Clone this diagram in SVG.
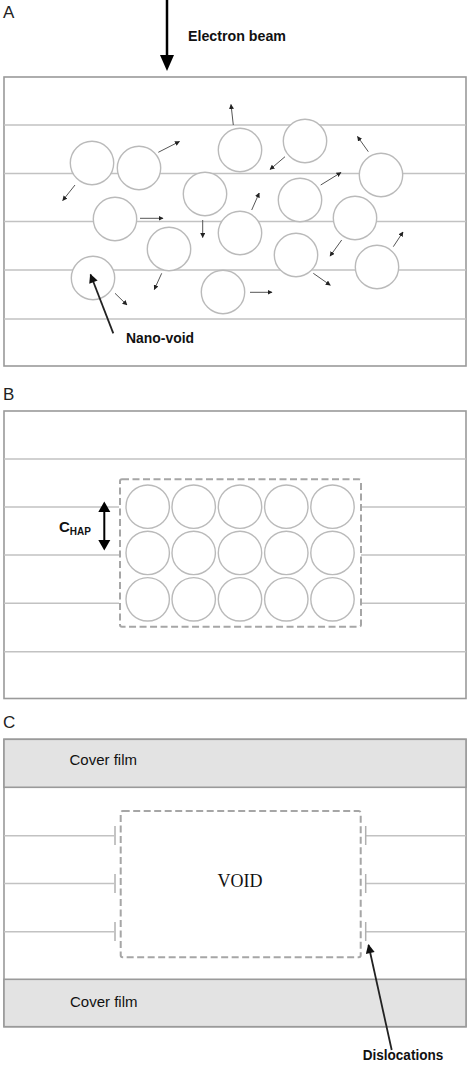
<svg xmlns="http://www.w3.org/2000/svg" width="474" height="1068" viewBox="0 0 474 1068">
<defs>
<style>
.frame{fill:#fff;stroke:#9a9a9a;stroke-width:1.6}
.layer{stroke:#c2c2c2;stroke-width:1.5;fill:none}
.void{fill:#fff;stroke:#bababa;stroke-width:1.4}
.move{stroke:#555;stroke-width:1;fill:none;marker-end:url(#sm)}
.dash{fill:none;stroke:#a6a6a6;stroke-width:2;stroke-dasharray:7 3.5}
.film{fill:#e3e3e3;stroke:#9a9a9a;stroke-width:1.6}
.tick{stroke:#b0b0b0;stroke-width:1.5}
.panel{font-family:"Liberation Sans",Arial,sans-serif;font-size:17px;fill:#222}
.lbl{font-family:"Liberation Sans",Arial,sans-serif;font-weight:bold;fill:#111}
.cov{font-family:"Liberation Sans",Arial,sans-serif;font-size:15px;fill:#111}
.ptr{stroke:#222;stroke-width:1.8;fill:none;marker-end:url(#big)}
</style>
<marker id="sm" viewBox="0 0 10 10" refX="9" refY="5" markerWidth="5" markerHeight="5" markerUnits="userSpaceOnUse" orient="auto"><path d="M0,0 L10,5 L0,10 z" fill="#222"/></marker>
<marker id="big" viewBox="0 0 10 10" refX="9" refY="5" markerWidth="11" markerHeight="9" markerUnits="userSpaceOnUse" orient="auto"><path d="M0,0 L10,5 L0,10 z" fill="#111"/></marker>
</defs>

<g id="panelA">
<text class="panel" x="3" y="18">A</text>
<rect id="boxA" class="frame" x="4" y="77" width="462" height="289"/>
<g id="layersA">
<line class="layer" x1="4" y1="125" x2="466" y2="125"/>
<line class="layer" x1="4" y1="173.5" x2="466" y2="173.5"/>
<line class="layer" x1="4" y1="221.5" x2="466" y2="221.5"/>
<line class="layer" x1="4" y1="270" x2="466" y2="270"/>
<line class="layer" x1="4" y1="319" x2="466" y2="319"/>
</g>
<g id="voidsA">
<circle class="void" cx="92" cy="163" r="21.7"/>
<circle class="void" cx="139" cy="168" r="21.7"/>
<circle class="void" cx="205" cy="194" r="21.7"/>
<circle class="void" cx="115" cy="219" r="21.7"/>
<circle class="void" cx="169" cy="249" r="21.7"/>
<circle class="void" cx="93" cy="278" r="21.7"/>
<circle class="void" cx="223" cy="292" r="21.7"/>
<circle class="void" cx="240" cy="150" r="21.7"/>
<circle class="void" cx="240" cy="233" r="21.7"/>
<circle class="void" cx="305" cy="141" r="21.7"/>
<circle class="void" cx="381" cy="175" r="21.7"/>
<circle class="void" cx="300" cy="200" r="21.7"/>
<circle class="void" cx="355" cy="218" r="21.7"/>
<circle class="void" cx="296" cy="255" r="21.7"/>
<circle class="void" cx="377" cy="267" r="21.7"/>
</g>
<g id="beam">
<line x1="167" y1="0" x2="167" y2="56" stroke="#000" stroke-width="2.5"/>
<path d="M160,55 L174,55 L167,71 z" fill="#000"/>
<text class="lbl" x="188" y="41" font-size="15" textLength="98" lengthAdjust="spacingAndGlyphs">Electron beam</text>
</g>
<g id="nanovoid-label">
<text class="lbl" x="126" y="343" font-size="14" textLength="68" lengthAdjust="spacingAndGlyphs">Nano-void</text>
</g>
</g>

<g id="connectorsA">
<line class="move" x1="75" y1="185" x2="62.7" y2="200.5"/>
<line class="move" x1="158.3" y1="152.3" x2="179.5" y2="141.5"/>
<line class="move" x1="140" y1="218.3" x2="163" y2="218.3"/>
<line class="move" x1="202.7" y1="220" x2="202.7" y2="237.5"/>
<line class="move" x1="161.7" y1="273.3" x2="154.3" y2="289.5"/>
<line class="move" x1="115" y1="293.3" x2="127" y2="305"/>
<line class="move" x1="285" y1="156.7" x2="270" y2="169.5"/>
<line class="move" x1="368.3" y1="151.7" x2="357.5" y2="136.5"/>
<line class="move" x1="320.7" y1="185" x2="341" y2="172.5"/>
<line class="move" x1="251.7" y1="210" x2="259.2" y2="193"/>
<line class="move" x1="341.7" y1="240" x2="330" y2="256.2"/>
<line class="move" x1="393.3" y1="246.7" x2="403" y2="232"/>
<line class="move" x1="313.3" y1="273.3" x2="330.3" y2="285.2"/>
<line class="move" x1="250" y1="292.3" x2="272" y2="292.3"/>
<line class="move" x1="233.3" y1="125" x2="231" y2="104.5"/>
<line class="ptr" x1="113.3" y1="333.3" x2="90.5" y2="274.5"/>
</g>

<g id="panelB">
<text class="panel" x="3" y="400">B</text>
<rect id="boxB" class="frame" x="4" y="411" width="462" height="287.5"/>
<g id="layersB">
<line class="layer" x1="4" y1="459" x2="466" y2="459"/>
<line class="layer" x1="4" y1="507" x2="119" y2="507"/>
<line class="layer" x1="361" y1="507" x2="466" y2="507"/>
<line class="layer" x1="4" y1="555" x2="119" y2="555"/>
<line class="layer" x1="361" y1="555" x2="466" y2="555"/>
<line class="layer" x1="4" y1="603.3" x2="119" y2="603.3"/>
<line class="layer" x1="361" y1="603.3" x2="466" y2="603.3"/>
<line class="layer" x1="4" y1="651.7" x2="466" y2="651.7"/>
</g>
<rect id="cluster" class="dash" x="120" y="479.3" width="241" height="147.4" rx="2"/>
<g id="gridB">
<circle class="void" cx="147.7" cy="506.7" r="21.7"/>
<circle class="void" cx="193.7" cy="506.7" r="21.7"/>
<circle class="void" cx="240" cy="506.7" r="21.7"/>
<circle class="void" cx="286.3" cy="506.7" r="21.7"/>
<circle class="void" cx="332.5" cy="506.7" r="21.7"/>
<circle class="void" cx="147.7" cy="552.9" r="21.7"/>
<circle class="void" cx="193.7" cy="552.9" r="21.7"/>
<circle class="void" cx="240" cy="552.9" r="21.7"/>
<circle class="void" cx="286.3" cy="552.9" r="21.7"/>
<circle class="void" cx="332.5" cy="552.9" r="21.7"/>
<circle class="void" cx="147.7" cy="599.3" r="21.7"/>
<circle class="void" cx="193.7" cy="599.3" r="21.7"/>
<circle class="void" cx="240" cy="599.3" r="21.7"/>
<circle class="void" cx="286.3" cy="599.3" r="21.7"/>
<circle class="void" cx="332.5" cy="599.3" r="21.7"/>
</g>
<g id="chap">
<line x1="104.3" y1="511" x2="104.3" y2="541" stroke="#000" stroke-width="2"/>
<path d="M98.3,512 L110.3,512 L104.3,501.5 z" fill="#000"/>
<path d="M98.3,540 L110.3,540 L104.3,550.5 z" fill="#000"/>
<text class="lbl" x="59" y="532" font-size="15">C<tspan font-size="10" dy="3">HAP</tspan></text>
</g>
</g>

<g id="panelC">
<text class="panel" x="3" y="728">C</text>
<rect id="boxC" class="frame" x="4" y="739.3" width="462" height="287.4"/>
<g id="coverTop">
<rect class="film" x="4" y="739.3" width="462" height="48"/>
<text class="cov" x="69.5" y="765">Cover film</text>
</g>
<g id="coverBottom">
<rect class="film" x="4" y="979.3" width="462" height="47.4"/>
<text class="cov" x="70" y="1007">Cover film</text>
</g>
<g id="layersC">
<line class="layer" x1="4" y1="835.7" x2="114" y2="835.7"/>
<line class="layer" x1="366" y1="835.7" x2="466" y2="835.7"/>
<line class="layer" x1="4" y1="883.5" x2="114" y2="883.5"/>
<line class="layer" x1="366" y1="883.5" x2="466" y2="883.5"/>
<line class="layer" x1="4" y1="931.7" x2="114" y2="931.7"/>
<line class="layer" x1="366" y1="931.7" x2="466" y2="931.7"/>
</g>
<g id="dislocations">
<line class="tick" x1="115" y1="826" x2="115" y2="845"/>
<line class="tick" x1="365.7" y1="826" x2="365.7" y2="845"/>
<line class="tick" x1="115" y1="874" x2="115" y2="893"/>
<line class="tick" x1="365.7" y1="874" x2="365.7" y2="893"/>
<line class="tick" x1="115" y1="922" x2="115" y2="941"/>
<line class="tick" x1="365.7" y1="922" x2="365.7" y2="941"/>
</g>
<g id="void">
<rect class="dash" x="120.7" y="811" width="240" height="146.3" rx="2"/>
<text x="240" y="887" text-anchor="middle" font-family="'Liberation Serif','Times New Roman',serif" font-size="18" fill="#111">VOID</text>
</g>
<g id="dislocations-label">
<text class="lbl" x="362.7" y="1060" font-size="14" textLength="80.6" lengthAdjust="spacingAndGlyphs">Dislocations</text>
</g>
</g>

<g id="connectorsC">
<line class="ptr" x1="391.7" y1="1050" x2="368.5" y2="945"/>
</g>
</svg>
